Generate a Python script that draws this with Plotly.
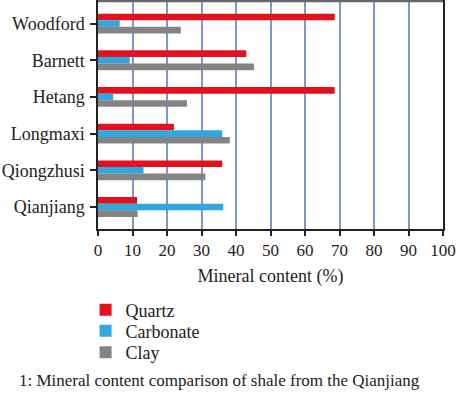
import plotly.graph_objects as go

categories = ["Woodford", "Barnett", "Hetang", "Longmaxi", "Qiongzhusi", "Qianjiang"]
quartz = [68.6, 43.0, 68.6, 22.0, 36.0, 11.3]
carbonate = [6.3, 9.2, 4.4, 36.0, 13.2, 36.3]
clay = [24.0, 45.2, 25.8, 38.2, 31.1, 11.5]
x_ticks = [0, 10, 20, 30, 40, 50, 60, 70, 80, 90, 100]
caption = "1: Mineral content comparison of shale from the Qianjiang"

FONT = "Liberation Serif"

fig = go.Figure()
fig.add_trace(go.Bar(y=categories, x=quartz, name="Quartz", orientation="h",
                     legend="legend",
                     marker=dict(color="#e3101e", line=dict(width=0))))
fig.add_trace(go.Bar(y=categories, x=carbonate, name="Carbonate", orientation="h",
                     legend="legend2",
                     marker=dict(color="#2fa8e0", line=dict(width=0))))
fig.add_trace(go.Bar(y=categories, x=clay, name="Clay", orientation="h",
                     legend="legend3",
                     marker=dict(color="#858383", line=dict(width=0))))

leg_common = dict(x=-0.036, xanchor="left", yanchor="top",
                  font=dict(size=18, family=FONT, color="#222"),
                  bgcolor="rgba(0,0,0,0)")

fig.update_layout(
    width=474, height=393,
    margin=dict(l=98, r=31, t=1, b=164, autoexpand=False),
    plot_bgcolor="white", paper_bgcolor="white",
    barmode="group", bargap=0.46, bargroupgap=0,
    font=dict(family=FONT, size=18, color="#222"),
    showlegend=True,
    legend=dict(y=-0.274, **leg_common),
    legend2=dict(y=-0.366, **leg_common),
    legend3=dict(y=-0.461, **leg_common),
    xaxis=dict(range=[0, 100], tickvals=x_ticks, showgrid=True,
               gridcolor="#7d97cb", gridwidth=1.5,
               showline=True, linecolor="#222", linewidth=1.5, mirror=True,
               ticks="outside", ticklen=5, tickcolor="#222", tickwidth=1.5,
               tickfont=dict(size=17),
               title=dict(text="Mineral content (%)", standoff=10, font=dict(size=18)),
               zeroline=False, automargin=False),
    yaxis=dict(range=[5.6, -0.615], showgrid=False,
               showline=True, linecolor="#222", linewidth=1.5, mirror=True,
               ticks="outside", ticklen=6, tickcolor="#222", tickwidth=1.5,
               ticklabelstandoff=2, automargin=False),
    shapes=[dict(type="line", xref="paper", yref="paper", x0=0, x1=1, y0=1, y1=1,
                 line=dict(color="#666666", width=2.5), layer="above")],
    annotations=[dict(text=caption, xref="paper", yref="paper", x=-0.235, y=-0.615,
                      xanchor="left", yanchor="top", showarrow=False,
                      font=dict(size=17, family=FONT, color="#222"))],
)

fig.write_html("out.html", post_script="document.body.style.margin='0px';",
               config={"displayModeBar": False})
